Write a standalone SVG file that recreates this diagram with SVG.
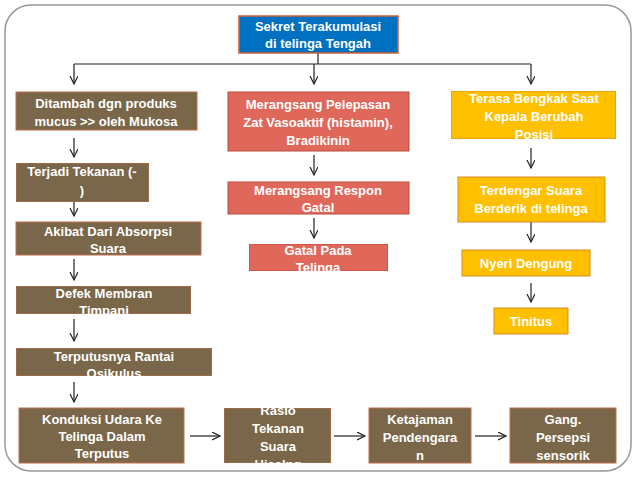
<svg xmlns="http://www.w3.org/2000/svg" width="638" height="478" viewBox="0 0 638 478">
<style>
text{font-family:"Liberation Sans",Arial,sans-serif;font-weight:bold;font-size:13px;fill:#fff;text-anchor:middle}
.b{fill:#7A6648;stroke:#C0704A;stroke-width:1}
.r{fill:#E0685A;stroke:#B84A3E;stroke-width:1}
.y{fill:#FFC000;stroke:#D98A20;stroke-width:1}
.u{fill:#0070C0;stroke:#D0603A;stroke-width:1.5}
.c{fill:none;stroke:#222;stroke-width:1.2}
</style>
<defs>
<marker id="a" markerWidth="10" markerHeight="10" refX="8" refY="4" orient="auto" markerUnits="userSpaceOnUse"><path d="M0,0 L8,4 L0,8" fill="none" stroke="#222" stroke-width="1.2"/></marker>
<clipPath id="k2"><rect x="16" y="163" width="133" height="39"/></clipPath>
<clipPath id="k4"><rect x="16" y="286" width="175" height="28"/></clipPath>
<clipPath id="k5"><rect x="16" y="348" width="196" height="28"/></clipPath>
<clipPath id="k7"><rect x="224" y="408" width="107" height="55"/></clipPath>
<clipPath id="k10"><rect x="249" y="244" width="139" height="27"/></clipPath>
<clipPath id="k11"><rect x="451" y="91" width="165" height="48"/></clipPath>
</defs>
<rect x="5" y="5" width="626" height="466" rx="26" fill="#fff" stroke="#999" stroke-width="1.5"/>
<g id="connectors" class="c">
<path d="M318,53 V64 M74,64 H531"/>
<path d="M74,64 V84" marker-end="url(#a)"/>
<path d="M314,64 V84" marker-end="url(#a)"/>
<path d="M531,64 V84" marker-end="url(#a)"/>
<path d="M74,138 V157" marker-end="url(#a)"/>
<path d="M74,196 V216" marker-end="url(#a)"/>
<path d="M74,259 V280" marker-end="url(#a)"/>
<path d="M74,319 V341" marker-end="url(#a)"/>
<path d="M74,382 V402" marker-end="url(#a)"/>
<path d="M314,155 V175" marker-end="url(#a)"/>
<path d="M314,218 V238" marker-end="url(#a)"/>
<path d="M531,148 V168" marker-end="url(#a)"/>
<path d="M531,221 V242" marker-end="url(#a)"/>
<path d="M531,283 V302" marker-end="url(#a)"/>
<path d="M190,436 H220" marker-end="url(#a)"/>
<path d="M334,436 H365" marker-end="url(#a)"/>
<path d="M475,436 H506" marker-end="url(#a)"/>
</g>
<g id="n0"><rect class="u" x="239" y="16" width="159" height="37"/><text x="318" y="31">Sekret Terakumulasi</text><text x="318" y="48">di  telinga Tengah</text></g>
<g id="n1"><rect class="b" x="16" y="92" width="181" height="38"/><text x="106" y="108">Ditambah dgn produks</text><text x="106" y="126">mucus &gt;&gt; oleh Mukosa</text></g>
<g id="n2" clip-path="url(#k2)"><rect class="b" x="16" y="163" width="133" height="39"/><text x="82" y="176">Terjadi Tekanan (-</text><text x="82" y="195">)</text></g>
<g id="n3"><rect class="b" x="16" y="222" width="185" height="33"/><text x="108" y="236">Akibat Dari Absorpsi</text><text x="108" y="253">Suara</text></g>
<g id="n4" clip-path="url(#k4)"><rect class="b" x="16" y="286" width="175" height="28"/><text x="104" y="298">Defek Membran</text><text x="104" y="315">Timpani</text></g>
<g id="n5" clip-path="url(#k5)"><rect class="b" x="16" y="348" width="196" height="28"/><text x="114" y="361">Terputusnya Rantai</text><text x="114" y="378">Osikulus</text></g>
<g id="n6"><rect class="b" x="19" y="408" width="165" height="55"/><text x="102" y="424">Konduksi Udara Ke</text><text x="102" y="441">Telinga Dalam</text><text x="102" y="458">Terputus</text></g>
<g id="n7" clip-path="url(#k7)"><rect class="b" x="224" y="408" width="107" height="55"/><text x="278" y="415">Rasio</text><text x="278" y="433">Tekanan</text><text x="278" y="451">Suara</text><text x="278" y="469">Hiaalng</text></g>
<g id="n8"><rect class="b" x="369" y="408" width="102" height="55"/><text x="420" y="424">Ketajaman</text><text x="420" y="442">Pendengara</text><text x="420" y="460">n</text></g>
<g id="n9"><rect class="b" x="510" y="408" width="106" height="55"/><text x="563" y="424">Gang.</text><text x="563" y="442">Persepsi</text><text x="563" y="460">sensorik</text></g>
<g id="n10"><rect class="r" x="228" y="92" width="181" height="59"/><text x="318" y="109">Merangsang Pelepasan</text><text x="318" y="127">Zat Vasoaktif (histamin),</text><text x="318" y="145">Bradikinin</text></g>
<g id="n11"><rect class="r" x="228" y="182" width="181" height="32"/><text x="318" y="195">Merangsang Respon</text><text x="318" y="212">Gatal</text></g>
<g id="n12" clip-path="url(#k10)"><rect class="r" x="249" y="244" width="139" height="27"/><text x="318" y="255">Gatal Pada</text><text x="318" y="272">Telinga</text></g>
<g id="n13" clip-path="url(#k11)"><rect class="y" x="451" y="91" width="165" height="48"/><text x="534" y="103">Terasa Bengkak  Saat</text><text x="534" y="121">Kepala Berubah</text><text x="534" y="139">Posisi</text></g>
<g id="n14"><rect class="y" x="458" y="177" width="147" height="45"/><text x="531" y="195">Terdengar Suara</text><text x="531" y="213">Berderik di telinga</text></g>
<g id="n15"><rect class="y" x="462" y="250" width="128" height="26"/><text x="526" y="268">Nyeri Dengung</text></g>
<g id="n16"><rect class="y" x="494" y="308" width="74" height="26"/><text x="531" y="326">Tinitus</text></g>
</svg>
